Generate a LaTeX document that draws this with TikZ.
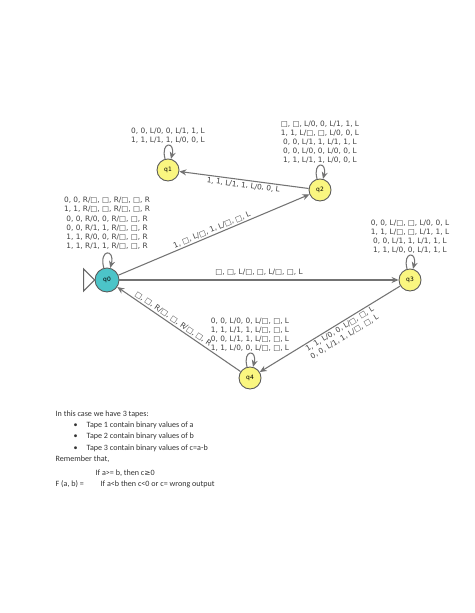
\documentclass[tikz,border=0pt]{standalone}
\usepackage{fontspec}
\usetikzlibrary{arrows.meta}
\newfontfamily\labfont{DejaVu Sans}
\newfontfamily\notefont{Carlito}
\definecolor{startfill}{RGB}{76,196,200}
\definecolor{statefill}{RGB}{250,246,128}
\newcommand{\lab}{\labfont\fontsize{2.1}{2.6}\selectfont}
\newcommand{\note}{\notefont\fontsize{2.3}{2.8}\selectfont}
\tikzset{
    state/.style={circle, draw=black!65, line width=0.25pt, fill=statefill,
        minimum size=2.2mm, inner sep=0pt, font=\labfont\fontsize{1.7}{2}\selectfont},
    startstate/.style={state, fill=startfill, minimum size=2.4mm},
    trans/.style={font=\lab, text=black!75, align=center, inner sep=0.4pt},
    arc/.style={draw=black!55, line width=0.3pt, -{Stealth[length=0.7mm,width=0.6mm]}},
    every loop/.style={min distance=1.5mm},
    notetext/.style={font=\note, text=black!80, anchor=base west, inner sep=0pt},
}
\begin{document}
\begin{tikzpicture}
    \path[fill=white] (0,0) rectangle (4.74,-6.13);
    \useasboundingbox (0,0) rectangle (4.74,-6.13);

    % states
    \node[startstate] (q0) at (1.07,-2.80) {q0};
    \node[state] (q1) at (1.68,-1.70) {q1};
    \node[state] (q2) at (3.20,-1.90) {q2};
    \node[state] (q3) at (4.10,-2.80) {q3};
    \node[state] (q4) at (2.50,-3.78) {q4};

    % start marker
    \draw[black!60, line width=0.3pt]
        (q0.west) -- ++(-0.11,0.11) -- ++(0,-0.22) -- cycle;

    % loops
    \path (q0) edge[arc, loop above] node[trans, above=0.6pt]
        {0, 0, R/□, □, R/□, □, R\\1, 1, R/□, □, R/□, □, R\\0, 0, R/0, 0, R/□, □, R\\
         0, 0, R/1, 1, R/□, □, R\\1, 1, R/0, 0, R/□, □, R\\1, 1, R/1, 1, R/□, □, R} (q0);
    \path (q1) edge[arc, loop above] node[trans, above]
        {0, 0, L/0, 0, L/1, 1, L\\1, 1, L/1, 1, L/0, 0, L} (q1);
    \path (q2) edge[arc, loop above] node[trans, above]
        {□, □, L/0, 0, L/1, 1, L\\1, 1, L/□, □, L/0, 0, L\\0, 0, L/1, 1, L/1, 1, L\\
         0, 0, L/0, 0, L/0, 0, L\\1, 1, L/1, 1, L/0, 0, L} (q2);
    \path (q3) edge[arc, loop above] node[trans, above]
        {0, 0, L/□, □, L/0, 0, L\\1, 1, L/□, □, L/1, 1, L\\
         0, 0, L/1, 1, L/1, 1, L\\1, 1, L/0, 0, L/1, 1, L} (q3);
    \path (q4) edge[arc, loop above] node[trans, above]
        {0, 0, L/0, 0, L/□, □, L\\1, 1, L/1, 1, L/□, □, L\\
         0, 0, L/1, 1, L/□, □, L\\1, 1, L/0, 0, L/□, □, L} (q4);

    % transitions
    \draw[arc] (q0) -- (q2);
    \path (q0) -- (q2) node[trans, midway, sloped, above] {1, □, L/□, 1, L/□, □, L};
    \draw[arc] (q2) -- (q1);
    \path (q1) -- (q2) node[trans, midway, sloped, below] {1, 1, L/1, 1, L/0, 0, L};
    \draw[arc] (q0) -- (q3);
    \path (q0) -- (q3) node[trans, midway, above=0.8pt] {□, □, L/□, □, L/□, □, L};
    \draw[arc] (q3) -- (q4);
    \path (q4) -- (q3) node[trans, pos=0.55, sloped, below]
        {1, 1, L/0, 0, L/□, □, L\\0, 0, L/1, 1, L/□, □, L};
    \draw[arc] (q4) -- (q0);
    \path (q0) -- (q4) node[trans, pos=0.43, sloped, above] {□, □, R/□, □, R/□, □, R};

    % notes
    \node[notetext] (n1) at (0.55,-4.17) {In this case we have 3 tapes:};
    \node[notetext] (b1) at (0.73,-4.28) {\textbullet};
    \node[notetext] (t1) at (0.86,-4.28) {Tape 1 contain binary values of a};
    \node[notetext] (b2) at (0.73,-4.39) {\textbullet};
    \node[notetext] (t2) at (0.86,-4.39) {Tape 2 contain binary values of b};
    \node[notetext] (b3) at (0.73,-4.50) {\textbullet};
    \node[notetext] (t3) at (0.86,-4.50) {Tape 3 contain binary values of c=a-b};
    \node[notetext] (n2) at (0.55,-4.61) {Remember that,};
    \node[notetext] (n3) at (0.95,-4.75) {If a>= b, then c{\labfont\fontsize{2.1}{2.6}\selectfont ≥}0};
    \node[notetext] (n4) at (0.55,-4.86) {F (a, b) =};
    \node[notetext] (n5) at (1.00,-4.86) {If a<b then c<0 or c= wrong output};
\end{tikzpicture}
\end{document}
